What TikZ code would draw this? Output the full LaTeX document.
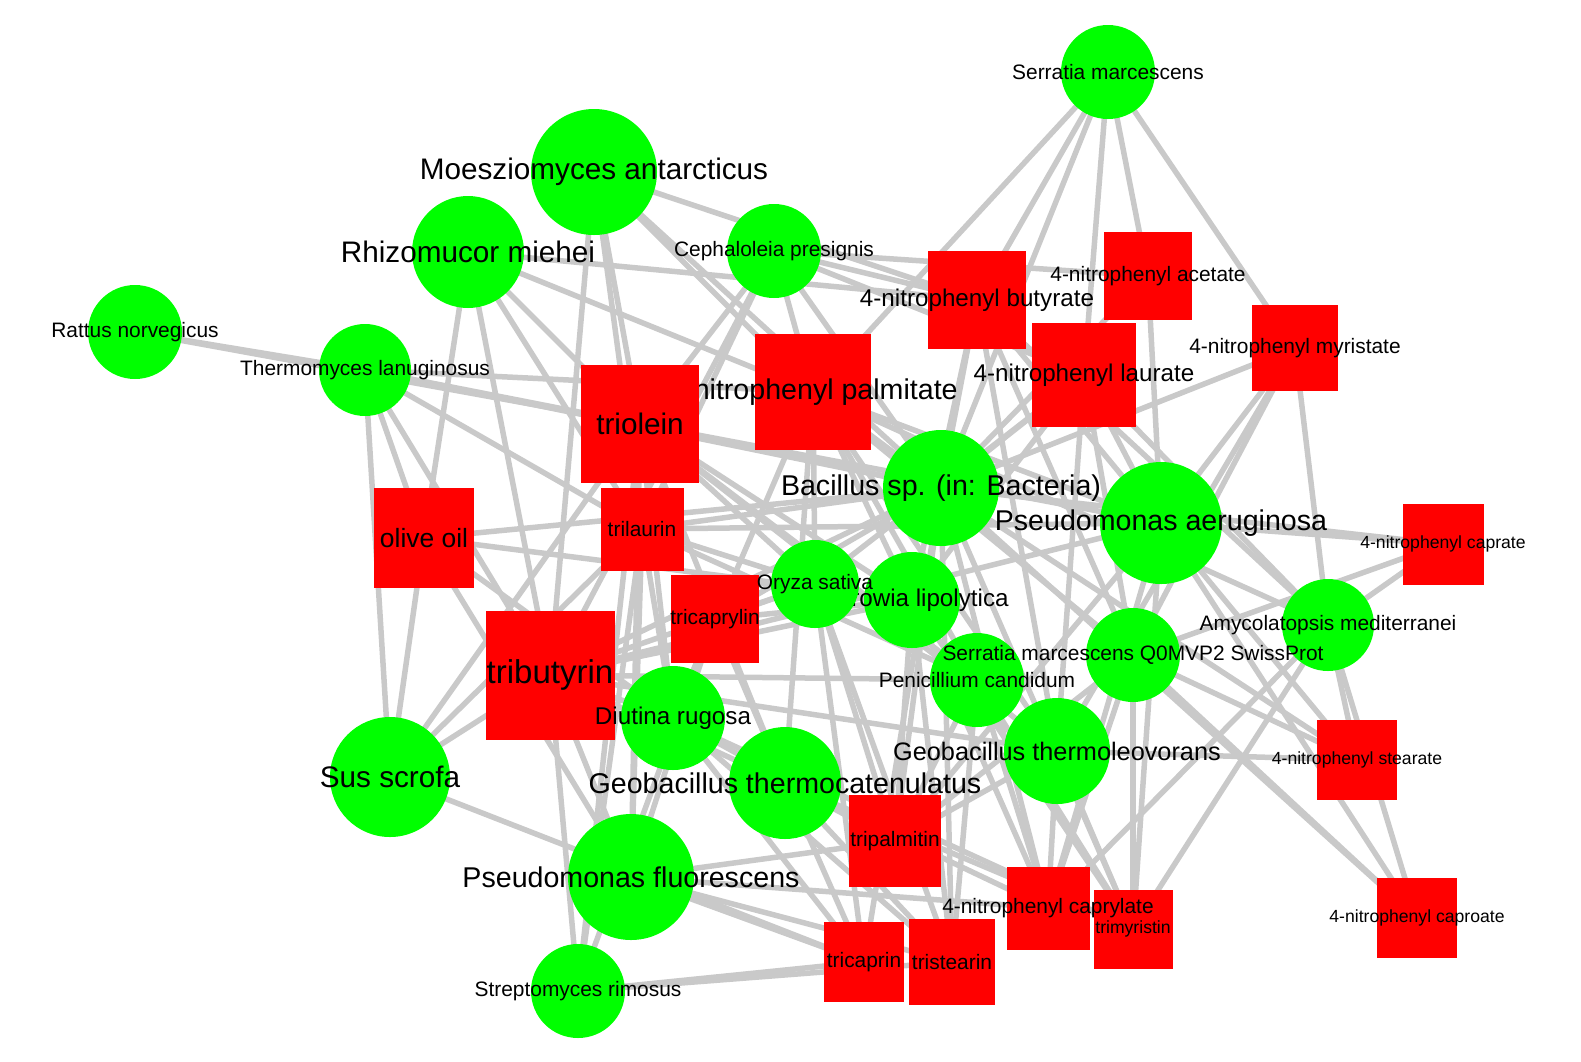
\documentclass[tikz,border=0pt]{standalone}
\usepackage{fontspec}
\setmainfont{Liberation Sans}
\begin{document}
\begin{tikzpicture}[x=1pt,y=-1pt,
  org/.style={circle,fill=green,inner sep=0,minimum size=#1},
  sub/.style={rectangle,fill=red,inner sep=0,minimum size=#1},
  edge/.style={draw=black!21,line width=5.5pt},
  lbl/.style={inner sep=0,font=\fontsize{\the\dimexpr #1pt*11/10\relax}{#1pt}\selectfont}]
\useasboundingbox (0,0) rectangle (1581,1061);
% organisms
\coordinate (SM) at (1108,72);
\coordinate (MA) at (594,172);
\coordinate (RM) at (468,252);
\coordinate (CP) at (774,251);
\coordinate (RN) at (135,332);
\coordinate (TL) at (365,370);
\coordinate (BS) at (941,488);
\coordinate (PA) at (1161,523);
\coordinate (OS) at (815,584);
\coordinate (YL) at (912,600);
\coordinate (AM) at (1328,625);
\coordinate (SQ) at (1133,655);
\coordinate (PC) at (977,680);
\coordinate (DR) at (673,718);
\coordinate (GL) at (1057,751);
\coordinate (SS) at (390,777);
\coordinate (GT) at (785,783);
\coordinate (PF) at (631,877);
\coordinate (SR) at (578,991);
% substrates
\coordinate (nBu) at (977,300);
\coordinate (nAc) at (1148,276);
\coordinate (nMy) at (1295,348);
\coordinate (nLa) at (1084,375);
\coordinate (nPa) at (813,392);
\coordinate (TO) at (640,424);
\coordinate (OO) at (424,538);
\coordinate (TLa) at (642,529);
\coordinate (nCa) at (1443,544);
\coordinate (TCy) at (715,619);
\coordinate (TB) at (550,675);
\coordinate (nSt) at (1357,760);
\coordinate (TP) at (895,841);
\coordinate (nCy) at (1048,908);
\coordinate (TM) at (1133,929);
\coordinate (nCo) at (1417,918);
\coordinate (TCa) at (864,962);
\coordinate (TS) at (952,962);
% edges
\foreach \a/\b in {RN/TL,RN/TO,
 TL/OO,TL/TO,TL/TB,TL/nPa,TL/TLa,TL/BS,TL/SS,
 RM/OO,RM/TB,RM/TO,RM/nBu,RM/nPa,RM/TLa,
 MA/TO,MA/TB,MA/nPa,MA/BS,MA/nBu,MA/TLa,
 CP/nPa,CP/TO,CP/nBu,CP/nAc,CP/nLa,CP/TLa,CP/BS,CP/TB,
 SM/nBu,SM/nAc,SM/nLa,SM/nMy,SM/BS,SM/nPa,
 BS/nBu,BS/nAc,BS/nLa,BS/nMy,BS/nPa,BS/TO,BS/TLa,BS/TCy,BS/TB,BS/OO,BS/nCa,BS/nSt,BS/nCy,BS/TP,BS/TM,BS/TCa,BS/TS,BS/nCo,
 PA/nBu,PA/nAc,PA/nLa,PA/nMy,PA/nPa,PA/nCa,PA/nSt,PA/TP,PA/nCy,PA/TM,PA/TO,PA/TB,PA/TLa,PA/nCo,
 OS/TO,OS/TLa,OS/TCy,OS/TB,OS/nPa,OS/nLa,OS/TP,OS/TCa,OS/TS,
 YL/TO,YL/TB,YL/nPa,YL/nLa,YL/nBu,YL/TCy,YL/TP,YL/TS,YL/nCy,YL/TM,YL/OO,
 AM/nMy,AM/nCa,AM/nSt,AM/nLa,AM/nPa,AM/nBu,AM/nCy,AM/TM,AM/nCo,
 SQ/nLa,SQ/nPa,SQ/nBu,SQ/nMy,SQ/nCa,SQ/nSt,SQ/TP,SQ/nCy,SQ/TM,SQ/nCo,
 PC/TO,PC/TB,PC/TLa,PC/nPa,PC/TP,PC/TS,PC/nCy,PC/TM,
 DR/TO,DR/TB,DR/TLa,DR/TCy,DR/OO,DR/nPa,DR/TP,DR/TCa,DR/TS,DR/TM,
 GL/nBu,GL/nLa,GL/nPa,GL/TB,GL/TP,GL/nCy,GL/TM,GL/nSt,GL/nMy,GL/TO,
 SS/OO,SS/TB,SS/TO,SS/TLa,SS/TCa,
 GT/TB,GT/TO,GT/TCy,GT/nPa,GT/TP,GT/TCa,GT/TS,GT/nCy,GT/TM,
 PF/TB,PF/TO,PF/TLa,PF/TCy,PF/TCa,PF/TS,PF/TP,PF/nCy,PF/OO,
 SR/TB,SR/TO,SR/TCa,SR/TS,SR/TLa,SR/TCy}
 \draw[edge] (\a) -- (\b);
% shapes
\node[org=94] (SMn) at (SM) {};
\node[org=126] (MAn) at (MA) {};
\node[org=112] (RMn) at (RM) {};
\node[org=94] (CPn) at (CP) {};
\node[org=94] (RNn) at (RN) {};
\node[org=92] (TLn) at (TL) {};
\node[org=122] (PAn) at (PA) {};
\node[org=116] (BSn) at (BS) {};
\node[org=96] (YLn) at (YL) {};
\node[org=92] (AMn) at (AM) {};
\node[org=94] (SQn) at (SQ) {};
\node[org=94] (PCn) at (PC) {};
\node[org=104] (DRn) at (DR) {};
\node[org=106] (GLn) at (GL) {};
\node[org=120] (SSn) at (SS) {};
\node[org=112] (GTn) at (GT) {};
\node[org=126] (PFn) at (PF) {};
\node[org=94] (SRn) at (SR) {};
\node[sub=98] (nBun) at (nBu) {};
\node[sub=88] (nAcn) at (nAc) {};
\node[sub=86] (nMyn) at (nMy) {};
\node[sub=104] (nLan) at (nLa) {};
\node[sub=116] (nPan) at (nPa) {};
\node[sub=100] (OOn) at (OO) {};
\node[sub=83] (TLan) at (TLa) {};
\node[sub=81] (nCan) at (nCa) {};
\node[sub=88] (TCyn) at (TCy) {};
\node[sub=129] (TBn) at (TB) {};
\node[sub=80] (nStn) at (nSt) {};
\node[sub=92] (TPn) at (TP) {};
\node[sub=83] (nCyn) at (nCy) {};
\node[sub=79] (TMn) at (TM) {};
\node[sub=80] (nCon) at (nCo) {};
\node[sub=80] (TCan) at (TCa) {};
\node[sub=86] (TSn) at (TS) {};
% partly covered labels
\node[lbl=26] (nPal) at (nPa) {4-nitrophenyl palmitate};
\node[lbl=22] (YLl) at (YL) {Yarrowia lipolytica};
\node[sub=118] (TOn) at (TO) {};
\node[org=88] (OSn) at (OS) {};
% labels
\node[lbl=19] (SMl) at (SM) {Serratia marcescens};
\node[lbl=27] (MAl) at (MA) {Moesziomyces antarcticus};
\node[lbl=27] (RMl) at (RM) {Rhizomucor miehei};
\node[lbl=19] (CPl) at (CP) {Cephaloleia presignis};
\node[lbl=19] (RNl) at (RN) {Rattus norvegicus};
\node[lbl=19] (TLl) at (TL) {Thermomyces lanuginosus};
\node[lbl=26] (PAl) at (PA) {Pseudomonas aeruginosa};
\node[lbl=26] (BSl) at (BS) {Bacillus sp. (in: Bacteria)};
\node[lbl=19] (OSl) at (OS) {Oryza sativa};
\node[lbl=19] (AMl) at (AM) {Amycolatopsis mediterranei};
\node[lbl=19] (SQl) at (SQ) {Serratia marcescens Q0MVP2 SwissProt};
\node[lbl=19] (PCl) at (PC) {Penicillium candidum};
\node[lbl=22] (DRl) at (DR) {Diutina rugosa};
\node[lbl=23] (GLl) at (GL) {Geobacillus thermoleovorans};
\node[lbl=27] (SSl) at (SS) {Sus scrofa};
\node[lbl=26] (GTl) at (GT) {Geobacillus thermocatenulatus};
\node[lbl=26] (PFl) at (PF) {Pseudomonas fluorescens};
\node[lbl=19] (SRl) at (SR) {Streptomyces rimosus};
\node[lbl=22] (nBul) at (nBu) {4-nitrophenyl butyrate};
\node[lbl=19] (nAcl) at (nAc) {4-nitrophenyl acetate};
\node[lbl=19] (nMyl) at (nMy) {4-nitrophenyl myristate};
\node[lbl=22] (nLal) at (nLa) {4-nitrophenyl laurate};
\node[lbl=27] (TOl) at (TO) {triolein};
\node[lbl=24] (OOl) at (OO) {olive oil};
\node[lbl=19] (TLal) at (TLa) {trilaurin};
\node[lbl=16] (nCal) at (nCa) {4-nitrophenyl caprate};
\node[lbl=19] (TCyl) at (TCy) {tricaprylin};
\node[lbl=30] (TBl) at (TB) {tributyrin};
\node[lbl=16] (nStl) at (nSt) {4-nitrophenyl stearate};
\node[lbl=19] (TPl) at (TP) {tripalmitin};
\node[lbl=19] (nCyl) at (nCy) {4-nitrophenyl caprylate};
\node[lbl=16] (TMl) at (TM) {trimyristin};
\node[lbl=16] (nCol) at (nCo) {4-nitrophenyl caproate};
\node[lbl=19] (TCal) at (TCa) {tricaprin};
\node[lbl=19] (TSl) at (TS) {tristearin};
\end{tikzpicture}
\end{document}
